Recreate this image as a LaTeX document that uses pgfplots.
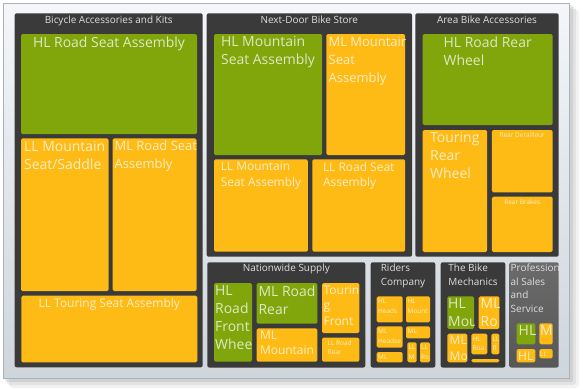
\documentclass[border=0pt]{standalone}
\usepackage{fontspec}
\setmainfont{Open Sans}
\usepackage{pgfplots}
\pgfplotsset{compat=1.18}
\definecolor{gr}{RGB}{128,166,12}
\definecolor{or}{RGB}{254,187,22}
\definecolor{grp}{RGB}{58,58,58}
\definecolor{ttl}{RGB}{222,222,222}
\definecolor{frtop}{RGB}{244,246,249}
\definecolor{frbot}{RGB}{206,213,219}
\definecolor{frdraw}{RGB}{170,178,186}
\newcommand\bigf{\fontsize{14}{18}\selectfont}
\newcommand\bigtf{\fontsize{13}{18}\selectfont}
\newcommand\midf{\fontsize{12}{15.5}\selectfont}
\newcommand\tinyf{\fontsize{6.5}{9.5}\selectfont}
\newcommand\ttlf{\fontsize{10}{13.5}\selectfont}
\tikzset{lab/.style={inner sep=0pt,align=left,text=white,text opacity=0.75}}
% rectangle from data + clipped label
\newcommand\leaf[9]{%
  \addplot[fill=#5,draw=none,rounded corners=1.5bp] coordinates {(#1,#2) (#3,#2) (#3,#4) (#1,#4)} -- cycle;
  \begin{scope}
    \clip (axis cs:#1,#2) rectangle (axis cs:#3,#4);
    \node[lab,font=#8,anchor=#7,yshift=-2.5bp] at (axis cs:#6,#2) {#9};
  \end{scope}}
\newcommand\group[5]{%
  \addplot[fill=#5,draw=none,rounded corners=2bp] coordinates {(#1,#2) (#3,#2) (#3,#4) (#1,#4)} -- cycle;}
\begin{document}
\begin{tikzpicture}
\begin{axis}[width=583bp,height=390bp,scale only axis,
  xmin=0,xmax=583,ymin=0,ymax=390,y dir=reverse,hide axis]
% page background
\addplot[fill=white,draw=none] coordinates {(0,0) (583,0) (583,390) (0,390)} -- cycle;
% shadow
\addplot[fill=black,fill opacity=0.05,draw=none,rounded corners=4bp] coordinates {(9,9) (579,9) (579,388) (9,388)} -- cycle;
\addplot[fill=black,fill opacity=0.06,draw=none,rounded corners=3bp] coordinates {(7,7) (576,7) (576,385) (7,385)} -- cycle;
\addplot[fill=black,fill opacity=0.08,draw=none,rounded corners=2bp] coordinates {(5,5) (573,5) (573,382) (5,382)} -- cycle;
% frame
\addplot[shade,top color=frtop,bottom color=frbot,draw=frdraw,line width=0.8bp] coordinates {(3.5,3.5) (569,3.5) (569,378) (3.5,378)} -- cycle;
% groups
\group{14.7}{13.3}{202.7}{367.3}{grp}
\group{206.7}{13.3}{412}{256.7}{grp}
\group{415.3}{13.3}{558.7}{256.7}{grp}
\group{207.3}{262.3}{365.3}{367.5}{grp}
\group{370.7}{262.3}{435.3}{367.5}{grp}
\group{440.7}{262.3}{505.3}{367.5}{grp}
\addplot[shade,top color=black!58,bottom color=black!66,draw=none,rounded corners=2bp] coordinates {(509.3,262.3) (558.7,262.3) (558.7,367.5) (509.3,367.5)} -- cycle;
% group titles
\node[inner sep=0pt,text=ttl,font=\ttlf,anchor=north] at (axis cs:108.7,15.5) {Bicycle Accessories and Kits};
\node[inner sep=0pt,text=ttl,font=\ttlf,anchor=north] at (axis cs:309.3,15.5) {Next-Door Bike Store};
\node[inner sep=0pt,text=ttl,font=\ttlf,anchor=north] at (axis cs:487,15.5) {Area Bike Accessories};
\node[inner sep=0pt,text=ttl,font=\ttlf,anchor=north] at (axis cs:286.3,264) {Nationwide Supply};
\node[inner sep=0pt,text=ttl,font=\ttlf,anchor=north,align=left] at (axis cs:403,264) {Riders\\Company};
\node[inner sep=0pt,text=ttl,font=\ttlf,anchor=north,align=left] at (axis cs:473,264) {The Bike\\Mechanics};
\begin{scope}
\clip (axis cs:509.3,262.3) rectangle (axis cs:558.7,367.5);
\node[inner sep=0pt,text=ttl,font=\ttlf,anchor=north west,align=left] at (axis cs:510.5,264) {Profession\\al Sales\\and\\Service};
\end{scope}
% Bicycle Accessories and Kits
\leaf{21}{34}{197}{134}{gr}{109}{north}{\bigf}{HL Road Seat Assembly}
\leaf{21}{138.3}{108.5}{291}{or}{64.7}{north}{\bigf}{LL Mountain\\Seat/Saddle}
\leaf{112.6}{138.3}{196.5}{291}{or}{114.5}{north west}{\bigtf}{ML Road Seat\\Assembly}
\leaf{21.3}{295.7}{197.3}{362.3}{or}{109.3}{north}{\midf}{LL Touring Seat Assembly}
% Next-Door Bike Store
\leaf{214}{34}{322}{155}{gr}{268}{north}{\bigf}{HL Mountain\\Seat Assembly}
\leaf{326.4}{34}{405.2}{155}{or}{328.5}{north west}{\bigtf}{ML Mountain\\Seat\\Assembly}
\leaf{214}{159.3}{307.8}{251.7}{or}{261}{north}{\midf}{LL Mountain\\Seat Assembly}
\leaf{312.3}{159.3}{405.2}{251.7}{or}{358.7}{north}{\midf}{LL Road Seat\\Assembly}
% Area Bike Accessories
\leaf{422.7}{34}{552.7}{125}{gr}{487.7}{north}{\bigf}{HL Road Rear\\Wheel}
\leaf{422.7}{130}{487}{252}{or}{454.8}{north}{\bigf}{Touring\\Rear\\Wheel}
\leaf{491.8}{130}{552.7}{192.3}{or}{522.2}{north}{\tinyf}{Rear Derailleur}
\leaf{491.8}{196.7}{552.7}{252}{or}{522.2}{north}{\tinyf}{Rear Brakes}
% Nationwide Supply
\leaf{214}{283}{252}{361.7}{gr}{215}{north west}{\bigf}{HL\\Road\\Front\\Whee}
\leaf{256.7}{283}{317.3}{323.7}{gr}{287}{north}{\bigf}{ML Road\\Rear}
\leaf{256.7}{328.3}{317.3}{361.7}{or}{287}{north}{\midf}{ML\\Mountain}
\leaf{322}{283}{359.3}{333}{or}{323.5}{north west}{\midf}{Tourin\\g\\Front}
\leaf{322}{337.7}{359.3}{361.7}{or}{327.5}{north west}{\tinyf}{LL Road\\Rear}
% Riders Company
\leaf{376.7}{296.3}{402.7}{322.3}{or}{378}{north west}{\tinyf}{HL\\Heads}
\leaf{406}{296.3}{430}{322.3}{or}{407.5}{north west}{\tinyf}{HL\\Mount}
\leaf{376.7}{326.3}{402.7}{347.7}{or}{378}{north west}{\tinyf}{ML\\Headse}
\leaf{406}{326.3}{430}{338.3}{or}{407.5}{north west}{\tinyf}{ML}
\leaf{407.3}{342.3}{416.7}{362.3}{or}{408.3}{north west}{\tinyf}{LL\\M}
\leaf{420}{342.3}{430}{362.3}{or}{421}{north west}{\tinyf}{LL\\Ro}
\leaf{376.7}{352}{402.7}{362.3}{or}{378}{north west}{\tinyf}{ML}
% The Bike Mechanics
\leaf{447.3}{296.3}{474}{329}{gr}{448}{north west}{\bigf}{HL\\Mou}
\leaf{478.7}{296.3}{499.3}{329}{or}{480.5}{north west}{\bigf}{ML\\Ro}
\leaf{447.3}{333.7}{467.3}{362.3}{or}{449.5}{north west}{\midf}{ML\\Mo}
\leaf{471.3}{333.7}{487.3}{354.3}{or}{472.5}{north west}{\tinyf}{HL\\Roa}
\leaf{491.3}{333.7}{499.3}{354.3}{or}{492.3}{north west}{\tinyf}{LL\\R}
\leaf{471.3}{359}{499.3}{362.3}{or}{472}{north west}{\tinyf}{}
% Professional Sales and Service
\leaf{516.7}{323.3}{535.3}{344.3}{gr}{518.5}{north west}{\bigf}{HL}
\leaf{539.3}{323.3}{552.7}{344.3}{or}{540}{north west}{\bigf}{M}
\leaf{516.7}{349}{535.3}{362.3}{or}{518}{north west}{\midf}{HL}
\leaf{539.3}{349}{552.7}{358.3}{or}{540}{north west}{\tinyf}{LL}
\end{axis}
\end{tikzpicture}
\end{document}
